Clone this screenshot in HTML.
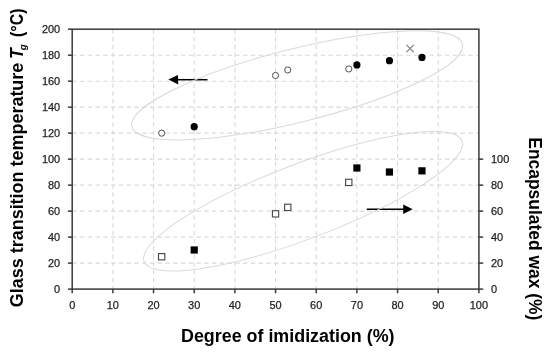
<!DOCTYPE html><html><head><meta charset="utf-8"><style>html,body{margin:0;padding:0;background:#fff;}svg{display:block;}</style></head><body>
<svg width="550" height="353" viewBox="0 0 550 353">
<rect x="0" y="0" width="550" height="353" fill="#fff"/>
<g stroke="#d9d9d9" stroke-width="1.1" stroke-dasharray="4.45 3.315"><line x1="72.20" y1="263.11" x2="478.90" y2="263.11"/><line x1="72.20" y1="237.12" x2="478.90" y2="237.12"/><line x1="72.20" y1="211.13" x2="478.90" y2="211.13"/><line x1="72.20" y1="185.14" x2="478.90" y2="185.14"/><line x1="72.20" y1="159.15" x2="478.90" y2="159.15"/><line x1="72.20" y1="133.16" x2="478.90" y2="133.16"/><line x1="72.20" y1="107.17" x2="478.90" y2="107.17"/><line x1="72.20" y1="81.18" x2="478.90" y2="81.18"/><line x1="72.20" y1="55.19" x2="478.90" y2="55.19"/><line x1="112.87" y1="29.20" x2="112.87" y2="289.10"/><line x1="153.54" y1="29.20" x2="153.54" y2="289.10"/><line x1="194.21" y1="29.20" x2="194.21" y2="289.10"/><line x1="234.88" y1="29.20" x2="234.88" y2="289.10"/><line x1="275.55" y1="29.20" x2="275.55" y2="289.10"/><line x1="316.22" y1="29.20" x2="316.22" y2="289.10"/><line x1="356.89" y1="29.20" x2="356.89" y2="289.10"/><line x1="397.56" y1="29.20" x2="397.56" y2="289.10"/><line x1="438.23" y1="29.20" x2="438.23" y2="289.10"/></g>
<g stroke="#000" stroke-width="1.5"><line x1="207.5" y1="79.7" x2="177" y2="79.7"/><line x1="366.8" y1="209.3" x2="404" y2="209.3"/></g>
<g fill="#000"><path d="M168.3 79.6L178 74.9L178.3 84.4Z"/><path d="M412.7 209.3L403.2 204.6L403.2 214Z"/></g>
<g fill="none" stroke="#d9d9d9" stroke-width="1">
<ellipse cx="297.17" cy="85.37" rx="170.38" ry="36.65" transform="rotate(-14.04 297.17 85.37)"/>
<ellipse cx="303.1" cy="201.3" rx="170.0" ry="37.5" transform="rotate(-20.8 303.1 201.3)"/>
</g>
<g stroke="#3a3a3a" stroke-width="1.5" fill="none"><rect x="72.20" y="29.20" width="406.70" height="259.90" fill="none"/><line x1="67.90" y1="289.10" x2="72.20" y2="289.10"/><line x1="67.90" y1="263.11" x2="72.20" y2="263.11"/><line x1="67.90" y1="237.12" x2="72.20" y2="237.12"/><line x1="67.90" y1="211.13" x2="72.20" y2="211.13"/><line x1="67.90" y1="185.14" x2="72.20" y2="185.14"/><line x1="67.90" y1="159.15" x2="72.20" y2="159.15"/><line x1="67.90" y1="133.16" x2="72.20" y2="133.16"/><line x1="67.90" y1="107.17" x2="72.20" y2="107.17"/><line x1="67.90" y1="81.18" x2="72.20" y2="81.18"/><line x1="67.90" y1="55.19" x2="72.20" y2="55.19"/><line x1="67.90" y1="29.20" x2="72.20" y2="29.20"/><line x1="478.90" y1="289.10" x2="483.20" y2="289.10"/><line x1="478.90" y1="263.11" x2="483.20" y2="263.11"/><line x1="478.90" y1="237.12" x2="483.20" y2="237.12"/><line x1="478.90" y1="211.13" x2="483.20" y2="211.13"/><line x1="478.90" y1="185.14" x2="483.20" y2="185.14"/><line x1="478.90" y1="159.15" x2="483.20" y2="159.15"/><line x1="72.20" y1="289.10" x2="72.20" y2="293.30"/><line x1="112.87" y1="289.10" x2="112.87" y2="293.30"/><line x1="153.54" y1="289.10" x2="153.54" y2="293.30"/><line x1="194.21" y1="289.10" x2="194.21" y2="293.30"/><line x1="234.88" y1="289.10" x2="234.88" y2="293.30"/><line x1="275.55" y1="289.10" x2="275.55" y2="293.30"/><line x1="316.22" y1="289.10" x2="316.22" y2="293.30"/><line x1="356.89" y1="289.10" x2="356.89" y2="293.30"/><line x1="397.56" y1="289.10" x2="397.56" y2="293.30"/><line x1="438.23" y1="289.10" x2="438.23" y2="293.30"/><line x1="478.90" y1="289.10" x2="478.90" y2="293.30"/></g>
<g font-family="Liberation Sans, Arial, sans-serif" font-size="11.8" fill="#222" stroke="#222" stroke-width="0.25"><text x="60.2" y="293.20" text-anchor="end" textLength="6.10" lengthAdjust="spacingAndGlyphs">0</text><text x="60.2" y="267.21" text-anchor="end" textLength="12.20" lengthAdjust="spacingAndGlyphs">20</text><text x="60.2" y="241.22" text-anchor="end" textLength="12.20" lengthAdjust="spacingAndGlyphs">40</text><text x="60.2" y="215.23" text-anchor="end" textLength="12.20" lengthAdjust="spacingAndGlyphs">60</text><text x="60.2" y="189.24" text-anchor="end" textLength="12.20" lengthAdjust="spacingAndGlyphs">80</text><text x="60.2" y="163.25" text-anchor="end" textLength="18.30" lengthAdjust="spacingAndGlyphs">100</text><text x="60.2" y="137.26" text-anchor="end" textLength="18.30" lengthAdjust="spacingAndGlyphs">120</text><text x="60.2" y="111.27" text-anchor="end" textLength="18.30" lengthAdjust="spacingAndGlyphs">140</text><text x="60.2" y="85.28" text-anchor="end" textLength="18.30" lengthAdjust="spacingAndGlyphs">160</text><text x="60.2" y="59.29" text-anchor="end" textLength="18.30" lengthAdjust="spacingAndGlyphs">180</text><text x="60.2" y="33.30" text-anchor="end" textLength="18.30" lengthAdjust="spacingAndGlyphs">200</text><text x="491" y="293.20" text-anchor="start" textLength="6.10" lengthAdjust="spacingAndGlyphs">0</text><text x="491" y="267.21" text-anchor="start" textLength="12.20" lengthAdjust="spacingAndGlyphs">20</text><text x="491" y="241.22" text-anchor="start" textLength="12.20" lengthAdjust="spacingAndGlyphs">40</text><text x="491" y="215.23" text-anchor="start" textLength="12.20" lengthAdjust="spacingAndGlyphs">60</text><text x="491" y="189.24" text-anchor="start" textLength="12.20" lengthAdjust="spacingAndGlyphs">80</text><text x="491" y="163.25" text-anchor="start" textLength="18.30" lengthAdjust="spacingAndGlyphs">100</text><text x="72.20" y="309.3" text-anchor="middle" textLength="6.10" lengthAdjust="spacingAndGlyphs">0</text><text x="112.87" y="309.3" text-anchor="middle" textLength="12.20" lengthAdjust="spacingAndGlyphs">10</text><text x="153.54" y="309.3" text-anchor="middle" textLength="12.20" lengthAdjust="spacingAndGlyphs">20</text><text x="194.21" y="309.3" text-anchor="middle" textLength="12.20" lengthAdjust="spacingAndGlyphs">30</text><text x="234.88" y="309.3" text-anchor="middle" textLength="12.20" lengthAdjust="spacingAndGlyphs">40</text><text x="275.55" y="309.3" text-anchor="middle" textLength="12.20" lengthAdjust="spacingAndGlyphs">50</text><text x="316.22" y="309.3" text-anchor="middle" textLength="12.20" lengthAdjust="spacingAndGlyphs">60</text><text x="356.89" y="309.3" text-anchor="middle" textLength="12.20" lengthAdjust="spacingAndGlyphs">70</text><text x="397.56" y="309.3" text-anchor="middle" textLength="12.20" lengthAdjust="spacingAndGlyphs">80</text><text x="438.23" y="309.3" text-anchor="middle" textLength="12.20" lengthAdjust="spacingAndGlyphs">90</text><text x="478.90" y="309.3" text-anchor="middle" textLength="18.30" lengthAdjust="spacingAndGlyphs">100</text></g>
<circle cx="161.67" cy="133.16" r="3.1" fill="#fff" stroke="#505050" stroke-width="1"/><circle cx="275.55" cy="75.46" r="3.1" fill="#fff" stroke="#505050" stroke-width="1"/><circle cx="287.75" cy="70.00" r="3.1" fill="#fff" stroke="#505050" stroke-width="1"/><circle cx="348.76" cy="68.96" r="3.1" fill="#fff" stroke="#505050" stroke-width="1"/><circle cx="194.21" cy="126.66" r="3.6" fill="#000"/><circle cx="356.89" cy="64.94" r="3.6" fill="#000"/><circle cx="389.43" cy="60.65" r="3.6" fill="#000"/><circle cx="421.96" cy="57.40" r="3.6" fill="#000"/><rect x="158.52" y="253.59" width="6.3" height="6.3" fill="#fff" stroke="#4a4a4a" stroke-width="1.15"/><rect x="272.40" y="210.71" width="6.3" height="6.3" fill="#fff" stroke="#4a4a4a" stroke-width="1.15"/><rect x="284.60" y="204.21" width="6.3" height="6.3" fill="#fff" stroke="#4a4a4a" stroke-width="1.15"/><rect x="345.61" y="179.26" width="6.3" height="6.3" fill="#fff" stroke="#4a4a4a" stroke-width="1.15"/><rect x="190.61" y="246.39" width="7.2" height="7.2" fill="#000"/><rect x="353.29" y="164.39" width="7.2" height="7.2" fill="#000"/><rect x="385.83" y="168.42" width="7.2" height="7.2" fill="#000"/><rect x="418.36" y="167.25" width="7.2" height="7.2" fill="#000"/><path d="M406.40000000000003 44.8L413.8 52.2M406.40000000000003 52.2L413.8 44.8" stroke="#7f7f7f" stroke-width="1.2" fill="none"/>
<g font-family="Liberation Sans, Arial, sans-serif" font-weight="bold" fill="#000" font-size="17.6">
<text x="181.0" y="341.8" textLength="213.5" lengthAdjust="spacingAndGlyphs">Degree of imidization (%)</text>
<text transform="translate(529.0 0) rotate(90)" x="137.3" y="0" textLength="183.0" lengthAdjust="spacingAndGlyphs">Encapsulated wax (%)</text>
<g transform="translate(22.5 0) rotate(-90)">
<text x="-307.2" y="0" textLength="244.5" lengthAdjust="spacingAndGlyphs">Glass transition temperature</text>
<text x="-59.0" y="0" font-style="italic">T</text>
<text x="-50.3" y="3.0" font-style="italic" font-size="9.8">g</text>
<text x="-37.0" y="0" textLength="28.6" lengthAdjust="spacingAndGlyphs">(°C)</text>
</g></g>
</svg></body></html>
